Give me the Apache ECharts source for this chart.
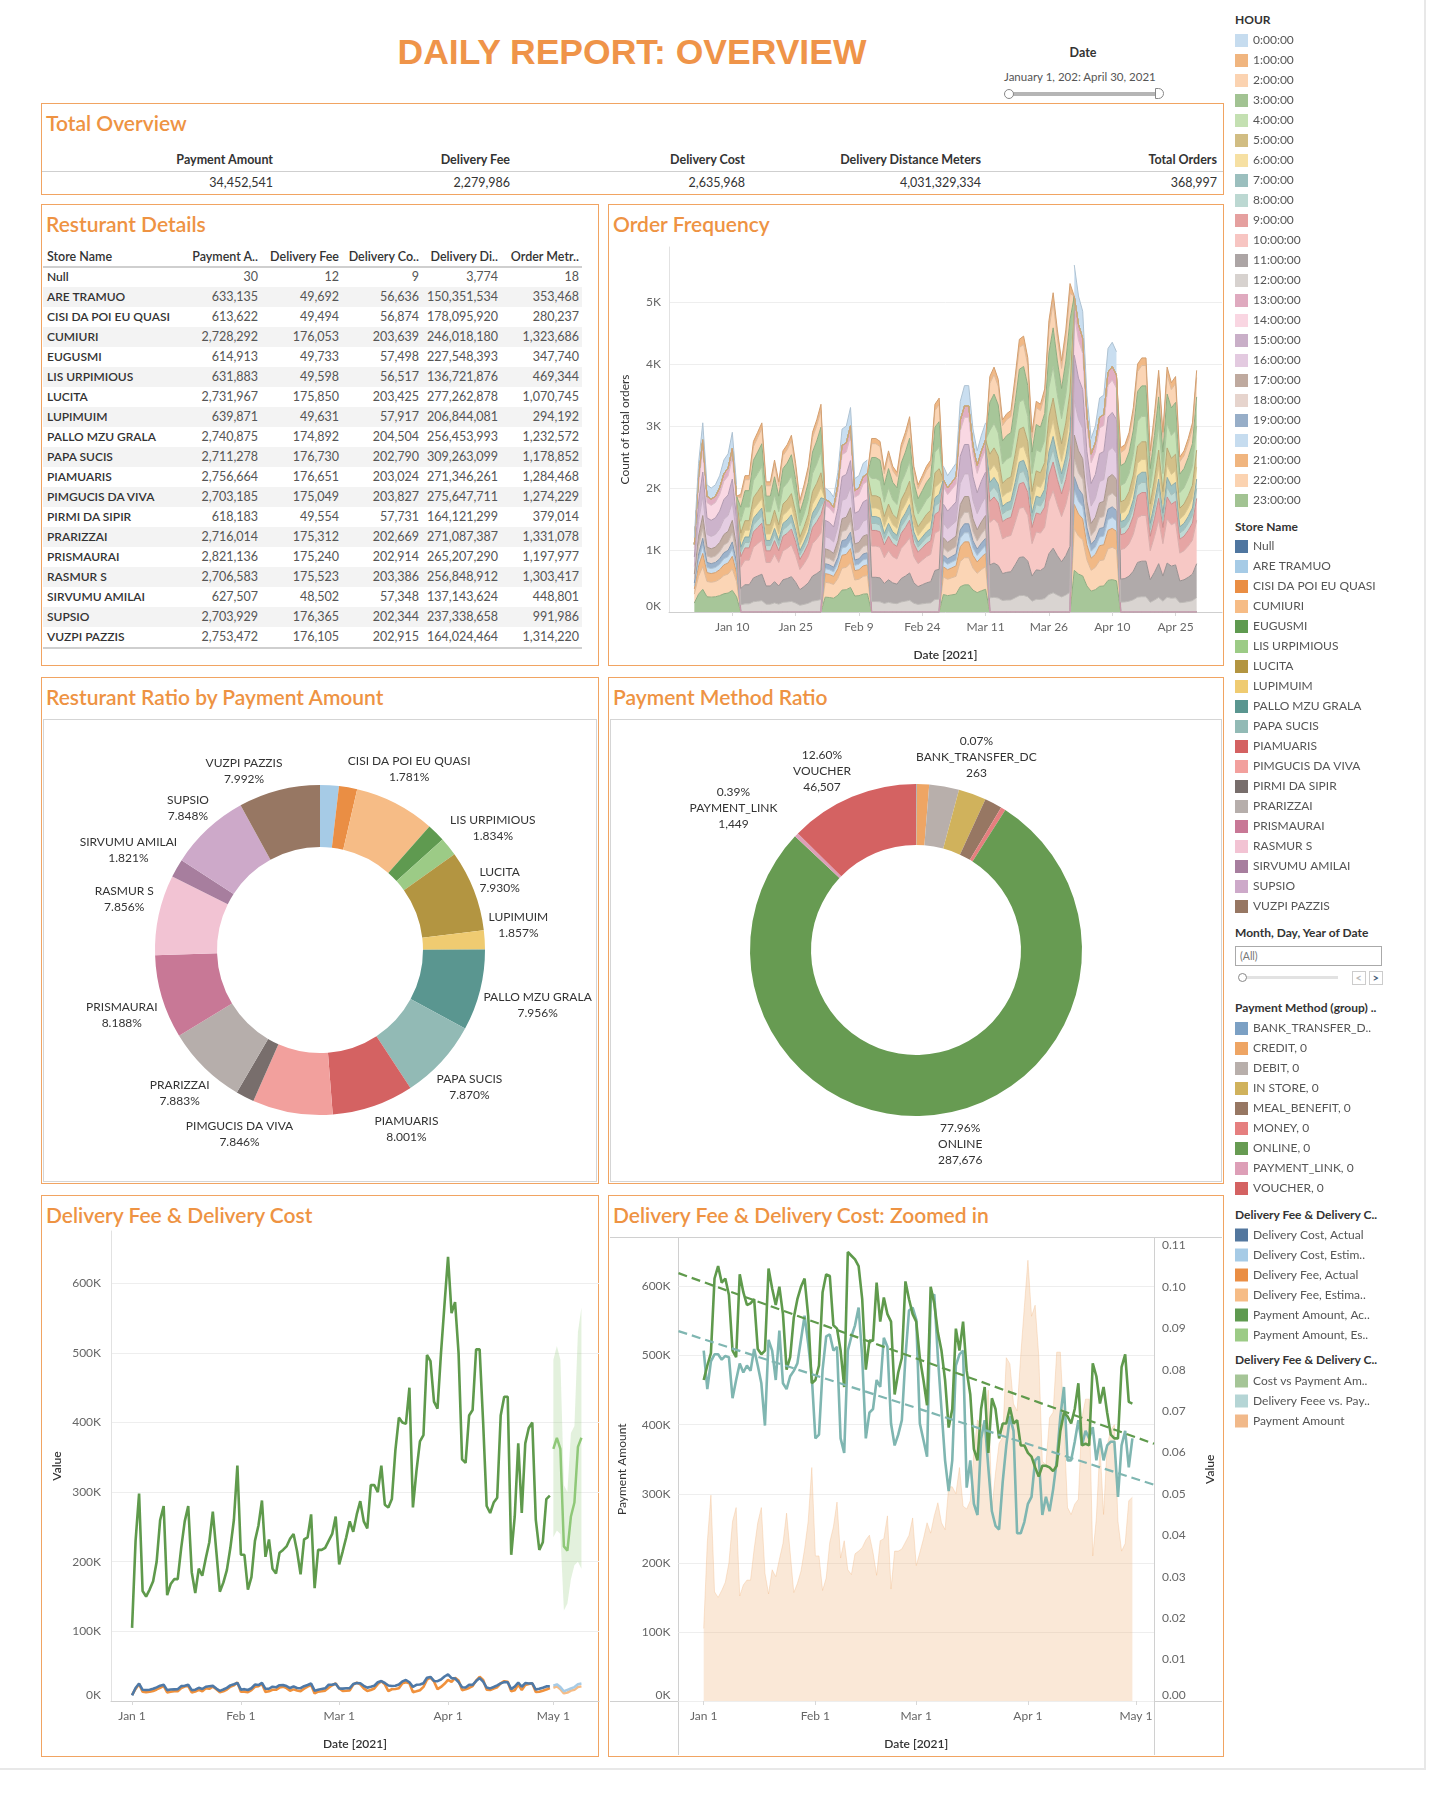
<!DOCTYPE html>
<html><head><meta charset="utf-8">
<script src="https://cdn.jsdelivr.net/npm/echarts@6/dist/echarts.min.js"></script>
<style>
html,body{margin:0;padding:0;background:#fff;}
#page{position:relative;width:1440px;height:1798px;overflow:hidden;font-family:Lato,'Noto Sans',sans-serif;}
.abs{position:absolute;white-space:nowrap;}
#chart{position:absolute;left:0;top:0;width:1440px;height:1798px;z-index:5;}
</style></head>
<body><div id="page"><div id="chart"></div></div>
<script>
// ================= DATA =================
const reportTitle = 'DAILY REPORT: OVERVIEW';
const totalHeaders = ['Payment Amount','Delivery Fee','Delivery Cost','Delivery Distance Meters','Total Orders'];
const totalValues = [34452541, 2279986, 2635968, 4031329334, 368997];

const tableHeaders = ['Store Name','Payment A..','Delivery Fee','Delivery Co..','Delivery Di..','Order Metr..'];
const storeNames = ['Null','ARE TRAMUO','CISI DA POI EU QUASI','CUMIURI','EUGUSMI','LIS URPIMIOUS','LUCITA','LUPIMUIM','PALLO MZU GRALA','PAPA SUCIS','PIAMUARIS','PIMGUCIS DA VIVA','PIRMI DA SIPIR','PRARIZZAI','PRISMAURAI','RASMUR S','SIRVUMU AMILAI','SUPSIO','VUZPI PAZZIS'];
const storePayment = [30,633135,613622,2728292,614913,631883,2731967,639871,2740875,2711278,2756664,2703185,618183,2716014,2821136,2706583,627507,2703929,2753472];
const storeDeliveryFee = [12,49692,49494,176053,49733,49598,175850,49631,174892,176730,176651,175049,49554,175312,175240,175523,48502,176365,176105];
const storeDeliveryCost = [9,56636,56874,203639,57498,56517,203425,57917,204504,202790,203024,203827,57731,202669,202914,203386,57348,202344,202915];
const storeDistance = [3774,150351534,178095920,246018180,227548393,136721876,277262878,206844081,256453993,309263099,271346261,275647711,164121299,271087387,265207290,256848912,137143624,237338658,164024464];
const storeOrderMetric = [18,353468,280237,1323686,347740,469344,1070745,294192,1232572,1178852,1284468,1274229,379014,1331078,1197977,1303417,448801,991986,1314220];
const storeColors = ['#4f76a0','#a6cbe6','#ea8e44','#f6bc86','#5f9a50','#9ccb86','#b39541','#efcb71','#5a9690','#92bab5','#d46262','#f2a09d','#786e6c','#b6aeab','#c87896','#f2c3d3','#a77e9e','#cda9c9','#977763'];
const storeLabelHidden = ['Null','ARE TRAMUO','CUMIURI','EUGUSMI','PIRMI DA SIPIR'];

const paymentNames = ['BANK_TRANSFER_DC','CREDIT','DEBIT','IN STORE','MEAL_BENEFIT','MONEY','ONLINE','PAYMENT_LINK','VOUCHER'];
const paymentCounts = [263,4430,10700,9960,6270,1742,287676,1449,46507];
const paymentLegendLabels = ['BANK_TRANSFER_D..','CREDIT, 0','DEBIT, 0','IN STORE, 0','MEAL_BENEFIT, 0','MONEY, 0','ONLINE, 0','PAYMENT_LINK, 0','VOUCHER, 0'];
const paymentColors = ['#7ba0c4','#eea564','#b8afab','#d0b25c','#977763','#e57f7f','#679b52','#dd9fb7','#d46262'];
const paymentLabelShown = ['BANK_TRANSFER_DC','ONLINE','PAYMENT_LINK','VOUCHER'];

const hourLabels = ['0:00:00','1:00:00','2:00:00','3:00:00','4:00:00','5:00:00','6:00:00','7:00:00','8:00:00','9:00:00','10:00:00','11:00:00','12:00:00','13:00:00','14:00:00','15:00:00','16:00:00','17:00:00','18:00:00','19:00:00','20:00:00','21:00:00','22:00:00','23:00:00'];
const hourColors = ['#c6dcef','#f0b57f','#fbd3b1','#a2c393','#c4e0b2','#d1bd83','#f6e0a3','#9bbfbe','#bcd8d2','#e5a09f','#f7c5c2','#aca5a5','#d7d2cf','#dfaabf','#f9d6e2','#c9afc8','#e3cae0','#bfaa9f','#e6d4cd','#97aec8','#c6dcef','#f0b57f','#fbd3b1','#a2c393'];
// share of each hour in the day's orders (read from layer thickness): days 1-11 of a month / days 12+
const hourShareEarly = [0.09,0,0,0,0,0,0,0,0,0,0,0,0,0.05,0.12,0.13,0.10,0.07,0.05,0.04,0.04,0.07,0.12,0.12];
const hourShareLate  = [null,0.03,0.08,0.12,0.10,0.07,0.05,0.04,0.04,0.09,0.18,0.14,0.06,0,0,0,0,0,0,0,0,0,0,0];
// total orders per day (thousands), Jan 1 .. Apr 30 2021
const dailyOrdersK = [
 1.2,2.4,3.05,2.05,2.0,2.05,2.2,2.45,2.55,2.9,2.05,
 1.9,2.2,2.2,2.75,2.9,3.05,2.1,2.1,2.45,2.1,2.6,2.7,2.85,2.4,1.8,2.05,2.35,2.9,3.1,3.35,
 2.0,1.95,1.85,2.25,2.95,3.0,3.3,2.15,2.2,2.4,2.45,
 2.8,2.8,2.75,2.3,2.6,2.35,2.25,2.7,2.9,3.15,2.35,2.05,2.2,2.35,2.45,3.35,3.45,
 2.35,2.2,2.3,2.4,3.4,3.65,3.65,2.95,2.6,2.85,3.05,
 3.8,3.95,3.75,3.1,3.2,3.25,3.8,4.4,4.45,4.1,2.9,3.4,3.35,3.6,4.7,5.15,4.55,4.05,4.55,5.3,
 5.6,5.1,4.85,3.5,2.8,3.0,3.45,3.5,4.25,4.35,4.2,
 2.65,2.7,2.9,3.3,4.0,4.1,4.1,2.6,3.2,3.9,2.9,3.95,3.7,3.8,2.5,2.6,2.8,3.05,3.9];
const freqTickLabels = ['Jan 10','Jan 25','Feb 9','Feb 24','Mar 11','Mar 26','Apr 10','Apr 25'];
const freqYLabels = ['0K','1K','2K','3K','4K','5K'];

// payment amount per day (thousands), Jan 1 .. Apr 30
const dailyPaymentK = [
 105,230,298,158,150,160,172,200,260,280,152,168,175,175,220,258,280,185,155,190,180,205,228,272,215,157,170,188,220,260,338,
 210,210,160,178,230,252,288,207,232,190,183,213,217,222,233,240,215,182,232,235,268,162,217,217,220,230,240,265,
 196,215,235,258,243,268,287,258,248,310,310,300,338,282,278,290,360,407,400,398,450,278,330,373,382,497,488,430,420,500,570,
 638,557,573,500,347,342,410,418,505,505,400,280,270,285,292,410,437,437,210,265,370,270,370,392,400,260,217,228,290,295];
// delivery cost / payment amount per day
const costRatio = [
 0.0775,0.081,0.084,0.102,0.105,0.101,0.102,0.098,0.0846,0.083,0.103,0.0987,0.0956,0.096,0.097,0.085,0.0837,0.0846,0.1044,0.0996,0.0956,0.100,0.0934,0.080,0.083,0.0925,0.097,0.100,0.102,0.093,0.0767,
 0.0775,0.081,0.0987,0.103,0.1026,0.0907,0.0899,0.0846,0.0758,0.1084,0.1075,0.1066,0.105,0.097,0.080,0.087,0.087,0.101,0.0916,0.0974,0.0934,0.0916,0.074,0.0793,0.0828,0.1013,0.097,0.0934,
 0.0916,0.0828,0.0775,0.0714,0.100,0.096,0.089,0.0846,0.0775,0.066,0.0705,0.0899,0.0846,0.0916,0.0797,0.074,0.0608,0.0581,0.0705,0.0758,0.0599,0.0731,0.0705,0.0634,0.067,0.067,0.0709,0.067,0.0678,0.0617,0.0617,
 0.0599,0.059,0.0564,0.0542,0.0568,0.0568,0.0564,0.0555,0.0568,0.0652,0.0696,0.0687,0.067,0.0705,0.0767,0.0617,0.0621,0.0617,0.0815,0.0784,0.0718,0.0758,0.0696,0.0643,0.0634,0.0634,0.0806,0.0837,0.0722,0.0718];
// delivery fee / payment amount per day
const feeRatio = [
 0.0846,0.0753,0.082,0.0837,0.0837,0.0824,0.0833,0.083,0.0731,0.0775,0.0815,0.0793,0.081,0.0797,0.085,0.081,0.0767,0.0665,0.0872,0.0846,0.0775,0.0894,0.0767,0.0753,0.0784,0.0797,0.0815,0.0872,0.093,0.0863,0.0784,
 0.0634,0.0643,0.080,0.088,0.0885,0.0846,0.0855,0.0634,0.0599,0.0846,0.088,0.0907,0.095,0.083,0.0634,0.0696,0.0705,0.0775,0.0758,0.0877,0.0855,0.067,0.0617,0.0643,0.0678,0.083,0.0943,0.095,
 0.0921,0.067,0.063,0.059,0.0969,0.0982,0.083,0.0705,0.0581,0.0507,0.0581,0.081,0.0837,0.0846,0.0515,0.0581,0.0476,0.0449,0.0634,0.0678,0.0564,0.0458,0.0423,0.0414,0.0529,0.0617,0.0687,0.0652,0.0405,0.0405,0.0432,
 0.0476,0.0493,0.0581,0.059,0.0449,0.0493,0.0458,0.0511,0.0581,0.0687,0.0758,0.0581,0.0581,0.0626,0.0678,0.0617,0.0652,0.0634,0.0661,0.0581,0.0634,0.0581,0.0617,0.0626,0.0626,0.0493,0.0617,0.0652,0.0564,0.0634];
// forecast May 1 .. May 9 (thousands)
const paymentEstK = [362,378,362,222,216,265,285,365,378];
const paymentEstUpperK = [490,510,490,310,300,385,395,530,565];
const paymentEstLowerK = [235,245,240,130,140,175,195,200,190];
const costEstK = [22,24,20,14,16,18,20,24,25];
const feeEstK = [19,21,17,11,12,15,16,20,21];
// trend lines: value at left and right edge of the zoomed plot
const costTrend = [0.1033, 0.0621];
const feeTrend = [0.0893, 0.0522];
const monthTickLabels = ['Jan 1','Feb 1','Mar 1','Apr 1','May 1'];
const valueKLabels = ['0K','100K','200K','300K','400K','500K','600K'];
const ratioLabels = ['0.00','0.01','0.02','0.03','0.04','0.05','0.06','0.07','0.08','0.09','0.10','0.11'];
const deliveryLegendNames = ['Delivery Cost, Actual','Delivery Cost, Estimate','Delivery Fee, Actual','Delivery Fee, Estimate','Payment Amount, Actual','Payment Amount, Estimate'];
const deliveryLegendLabels = ['Delivery Cost, Actual','Delivery Cost, Estim..','Delivery Fee, Actual','Delivery Fee, Estima..','Payment Amount, Ac..','Payment Amount, Es..'];
const zoomLegendNames = ['Cost vs Payment Amount','Delivery Feee vs. Payment Amount','Payment Amount'];
const zoomLegendLabels = ['Cost vs Payment Am..','Delivery Feee vs. Pay..','Payment Amount'];
const zoomLegendColors = ['#a5c597','#b5d5d5','#f1b98a'];

// label placement tweaks (style, px) to mimic the reference's label collision handling
const storeLabelNudge = {'VUZPI PAZZIS':[-28,8], 'CISI DA POI EU QUASI':[56,11], 'LIS URPIMIOUS':[8,10], 'LUPIMUIM':[0,-13],
  'PIAMUARIS':[24,-4], 'PIMGUCIS DA VIVA':[-48,-6], 'SIRVUMU AMILAI':[-2,8], 'RASMUR S':[0,-8], 'PRISMAURAI':[0,6]};
const paymentLabelNudge = {'VOUCHER':[-16,8], 'BANK_TRANSFER_DC':[60,0], 'PAYMENT_LINK':[-26,9], 'ONLINE':[20,0]};

// ================= HTML LAYER =================
const page = document.getElementById('page');
const FONT = "Lato,'Noto Sans',sans-serif";
function fmt(n){ return n.toLocaleString('en-US'); }
function put(x, y, text, o){
  o = o || {};
  const d = document.createElement('div');
  d.className = 'abs';
  d.textContent = text;
  const fs = o.size || 12;
  d.style.fontSize = fs + 'px';
  d.style.lineHeight = Math.round(fs*1.3) + 'px';
  d.style.color = o.color || '#555';
  d.style.fontFamily = o.family || FONT;
  if (o.weight) d.style.fontWeight = o.weight;
  d.style.top = (y - Math.round(fs*1.3)/2) + 'px';
  const a = o.align || 'left';
  if (a === 'left') d.style.left = x + 'px';
  else if (a === 'right') d.style.right = (1440 - x) + 'px';
  else { d.style.left = x + 'px'; d.style.transform = 'translateX(-50%)'; }
  page.appendChild(d);
  return d;
}
function box(x, y, w, h, css){
  const d = document.createElement('div');
  d.style.position = 'absolute';
  d.style.left = x + 'px'; d.style.top = y + 'px';
  d.style.width = w + 'px'; d.style.height = h + 'px';
  d.style.boxSizing = 'border-box';
  Object.assign(d.style, css || {});
  page.appendChild(d);
  return d;
}
const ORANGE = '#ee9343';
const PANEL = {border:'1.5px solid #f1a462'};
function panel(x, y, w, h, title){
  box(x, y, w, h, PANEL);
  put(x + 5, y + 19.5, title, {size:21, weight:600, color:ORANGE});
}
// page frame
box(1424, 0, 2, 1769, {background:'#e8e8e8'});
box(0, 1768, 1426, 2, {background:'#e8e8e8'});
// title & date filter
put(632, 52, reportTitle, {size:35.5, weight:'bold', color:'#ef9449', align:'center', family:"'Liberation Sans',Arial,sans-serif"});
put(1083, 53, 'Date', {size:12.5, weight:'bold', color:'#333', align:'center'});
put(1004, 76, 'January 1, 202: April 30, 2021', {size:11.5, color:'#555'});
box(1010, 92, 148, 4, {background:'#b5b5b5', borderRadius:'2px'});
box(1004, 89, 10, 10, {background:'#fff', border:'1.2px solid #888', borderRadius:'50%'});
box(1155, 88, 9, 11, {background:'#fff', border:'1.2px solid #888', borderRadius:'0 6px 6px 0'});

// Total overview
panel(41, 103, 1183, 92, 'Total Overview');
const totalRight = [273, 510, 745, 981, 1217];
box(42, 171, 1181, 1, {background:'#cfcfcf'});
totalHeaders.forEach((h,i)=>{
  put(totalRight[i], 160, h, {size:12.5, weight:'bold', color:'#333', align:'right'});
  put(totalRight[i], 183, fmt(totalValues[i]), {size:12.5, color:'#333', align:'right'});
});

// Resturant details table
panel(41, 204, 558, 462, 'Resturant Details');
const colRight = [0, 258, 339, 419, 498, 579];
const rowY0 = 277, rowStep = 20;
storeNames.forEach((n,i)=>{ if (i % 2 === 1) box(43, rowY0 + i*rowStep - 10, 539, 20, {background:'#f3f3f3'}); });
box(43, 266, 539, 1.5, {background:'#cfcfcf'});
box(43, 647, 539, 1.5, {background:'#cfcfcf'});
put(47, 257, tableHeaders[0], {size:12.5, color:'#333', weight:600});
for (let c=1;c<tableHeaders.length;c++) put(colRight[c], 257, tableHeaders[c], {size:12.5, color:'#333', weight:600, align:'right'});
const tableCols = [storePayment, storeDeliveryFee, storeDeliveryCost, storeDistance, storeOrderMetric];
storeNames.forEach((n,i)=>{
  const y = rowY0 + i*rowStep;
  put(47, y, n, {size:12, color:'#333', weight:600});
  tableCols.forEach((col,c)=> put(colRight[c+1], y, fmt(col[i]), {size:12.5, color:'#555', align:'right'}));
});

// other panels
panel(608, 204, 616, 462, 'Order Frequency');
panel(41, 677, 558, 507, 'Resturant Ratio by Payment Amount');
panel(608, 677, 616, 507, 'Payment Method Ratio');
box(43, 719, 554, 463, {border:'1px solid #d5d5d5'});
box(610, 719, 612, 463, {border:'1px solid #d5d5d5'});
panel(41, 1195, 558, 562, 'Delivery Fee & Delivery Cost');
panel(608, 1195, 616, 562, 'Delivery Fee & Delivery Cost: Zoomed in');
box(610, 1237, 612, 1, {background:'#d0d0d0'});
box(678, 1237, 1, 518, {background:'#d0d0d0'});
box(1154, 1237, 1, 518, {background:'#d0d0d0'});
box(610, 1701, 612, 1, {background:'#d0d0d0'});

// legend headings & filter widget
const LH = {size:12, weight:'bold', color:'#333'};
put(1235, 20, 'HOUR', LH);
put(1235, 527, 'Store Name', LH);
put(1235, 933, 'Month, Day, Year of Date', LH);
box(1235, 946, 147, 20, {border:'1px solid #aaa', background:'#fff'});
put(1240, 956, '(All)', {size:10.5, color:'#777'});
box(1246, 976, 92, 3, {background:'#e2e2e2'});
box(1238, 973, 9, 9, {background:'#fff', border:'1px solid #888', borderRadius:'50%'});
box(1352, 971, 14, 14, {border:'1px solid #ccc', background:'#fff'});
box(1369, 971, 14, 14, {border:'1px solid #ccc', background:'#fff'});
put(1355.5, 978, '<', {size:11, color:'#bbb', weight:'bold'});
put(1372.5, 978, '>', {size:11, color:'#4a5f7a', weight:'bold'});
put(1235, 1008, 'Payment Method (group) ..', LH);
put(1235, 1215, 'Delivery Fee & Delivery C..', LH);
put(1235, 1360, 'Delivery Fee & Delivery C..', LH);

// ================= CHART =================
function darken(hex, a){
  const n = parseInt(hex.slice(1),16);
  const r = Math.round(((n>>16)&255)*(1-a)), g = Math.round(((n>>8)&255)*(1-a)), b = Math.round((n&255)*(1-a));
  return 'rgb('+r+','+g+','+b+')';
}
function dayTime(i){ return new Date(2021,0,1+i).getTime(); }
const MONTHS = ['Jan','Feb','Mar','Apr','May','Jun','Jul','Aug','Sep','Oct','Nov','Dec'];

// order frequency: category axis Dec 26 .. May 5
const FREQ_PAD = 6, FREQ_N = 132;
const freqCats = [];
for (let k=0;k<FREQ_N;k++){ const d = new Date(2020,11,26+k); freqCats.push(MONTHS[d.getMonth()]+' '+d.getDate()); }
function isEarly(i){ return new Date(2021,0,1+i).getDate() <= 11; }
const hourSeries = [];
for (let h=23; h>=0; h--){
  const data = freqCats.map((c,k)=>{
    const i = k - FREQ_PAD;
    if (i < 0 || i >= dailyOrdersK.length) return null;
    const s = (isEarly(i) ? hourShareEarly : hourShareLate)[h];
    return s === null ? null : Math.round(dailyOrdersK[i]*1000*s);
  });
  hourSeries.push({
    name: hourLabels[h], type:'line', xAxisIndex:0, yAxisIndex:0, stack:'hours', data,
    symbol:'none', showSymbol:false, silent:true, emphasis:{disabled:true},
    itemStyle:{color:hourColors[h]},
    lineStyle:{width:1, color:darken(hourColors[h],0.12)},
    areaStyle:{color:hourColors[h], opacity:0.95}
  });
}
const freqTickShow = (idx)=> idx>0 && idx%15===0 && idx/15 <= freqTickLabels.length;

const axisLbl = {color:'#666', fontSize:12, fontFamily:FONT};
const axisName = {color:'#333', fontSize:12, fontFamily:FONT, fontWeight:600};
const monthFmt = (v)=>{ const d = new Date(v); return (d.getDate()===1 && d.getHours()===0) ? (monthTickLabels[d.getMonth()] || '') : ''; };
const kFmt = (v)=> (v % 100000 === 0 && v/100000 < valueKLabels.length) ? valueKLabels[v/100000] : '';
const ratioFmt = (v)=>{ const k = Math.round(v*100); return (Math.abs(v*100-k) < 1e-6 && k < ratioLabels.length) ? ratioLabels[k] : ''; };

const payTotal = storePayment.reduce((a,b)=>a+b,0);
const pmTotal = paymentCounts.reduce((a,b)=>a+b,0);
function makeLabelLayout(names, nudges){
  return function(params){
    const pts = params.labelLinePoints;
    if (!pts || pts.length < 2) return {};
    const p0 = pts[0], p1 = pts[1];
    let dx = p1[0]-p0[0], dy = p1[1]-p0[1];
    const len = Math.hypot(dx,dy) || 1; dx/=len; dy/=len;
    const w = params.labelRect.width, h = params.labelRect.height;
    const push = 3 + Math.abs(dx)*w/2 + Math.abs(dy)*h/2;
    const nd = nudges[names[params.dataIndex]] || [0,0];
    return {x: p0[0]+dx*push+nd[0], y: p0[1]+dy*push+nd[1], align:'center', verticalAlign:'middle'};
  };
}

const xMinL = new Date(2020,11,26).getTime(), xMaxL = new Date(2021,4,14).getTime();
const xMinR = new Date(2020,11,25).getTime(), xMaxR = new Date(2021,4,6).getTime();
const payActual = dailyPaymentK.map((v,i)=>[dayTime(i), v*1000]);
const costActual = dailyPaymentK.map((v,i)=>[dayTime(i), Math.round(v*1000*costRatio[i])]);
const feeActual = dailyPaymentK.map((v,i)=>[dayTime(i), Math.round(v*1000*feeRatio[i])]);
const estTime = (j)=> new Date(2021,4,1+j).getTime();
const lineBase = {type:'line', symbol:'none', showSymbol:false, silent:true, emphasis:{disabled:true}};

const legendBase = {orient:'vertical', left:1235, itemWidth:13, itemHeight:13, itemGap:7, icon:'rect', selectedMode:false, padding:0,
  textStyle:{fontSize:12, color:'#555', fontFamily:FONT, lineHeight:13}};

const option = {
  animation:false,
  textStyle:{fontFamily:FONT},
  grid:[
    {left:669, top:247, width:553, height:365, outerBoundsMode:'none'},
    {left:111, top:1231, width:488, height:470, outerBoundsMode:'none'},
    {left:678.5, top:1237.5, width:475.5, height:463.5, outerBoundsMode:'none'}
  ],
  xAxis:[
    {gridIndex:0, type:'category', data:freqCats, boundaryGap:false,
     axisLine:{lineStyle:{color:'#cfcfcf'}}, axisTick:{show:true, length:4, interval:(i)=>freqTickShow(i), lineStyle:{color:'#d8d8d8'}},
     axisLabel:Object.assign({interval:(i)=>freqTickShow(i), formatter:(v,i)=> freqTickShow(i) ? freqTickLabels[i/15-1] : '', margin:9}, axisLbl),
     splitLine:{show:false}, name:'Date [2021]', nameLocation:'middle', nameGap:37, nameTextStyle:axisName},
    {gridIndex:1, type:'time', min:xMinL, max:xMaxL, minInterval:28*86400000,
     axisLine:{lineStyle:{color:'#cfcfcf'}}, axisTick:{show:true, length:4, lineStyle:{color:'#d8d8d8'}},
     axisLabel:Object.assign({formatter:monthFmt, margin:9, hideOverlap:false}, axisLbl), splitLine:{show:false},
     name:'Date [2021]', nameLocation:'middle', nameGap:37, nameTextStyle:axisName},
    {gridIndex:2, type:'time', min:xMinR, max:xMaxR, minInterval:28*86400000,
     axisLine:{show:false}, axisTick:{show:true, length:4, lineStyle:{color:'#d8d8d8'}},
     axisLabel:Object.assign({formatter:monthFmt, margin:9, hideOverlap:false}, axisLbl), splitLine:{show:false},
     name:'Date [2021]', nameLocation:'middle', nameGap:37, nameTextStyle:axisName}
  ],
  yAxis:[
    {gridIndex:0, type:'value', min:0, max:5890, interval:1000,
     axisLine:{show:true, lineStyle:{color:'#e2e2e2'}}, axisTick:{show:false},
     axisLabel:Object.assign({formatter:(v)=> (v%1000===0 && v/1000 < freqYLabels.length) ? freqYLabels[v/1000] : '', margin:8, verticalAlignMinLabel:'bottom'}, axisLbl),
     splitLine:{lineStyle:{color:'#eeeeee'}, showMaxLine:false},
     name:'Count of total orders', nameLocation:'middle', nameRotate:90, nameGap:38, nameTextStyle:Object.assign({}, axisName, {fontWeight:'normal'})},
    {gridIndex:1, type:'value', min:0, max:675000, interval:100000,
     axisLine:{show:true, lineStyle:{color:'#e2e2e2'}}, axisTick:{show:false},
     axisLabel:Object.assign({formatter:kFmt, margin:10, verticalAlignMinLabel:'bottom'}, axisLbl),
     splitLine:{lineStyle:{color:'#eeeeee'}, showMaxLine:false},
     name:'Value', nameLocation:'middle', nameRotate:90, nameGap:48, nameTextStyle:axisName},
    {gridIndex:2, type:'value', min:0, max:671000, interval:100000, position:'left',
     axisLine:{show:false}, axisTick:{show:false},
     axisLabel:Object.assign({formatter:kFmt, margin:8, verticalAlignMinLabel:'bottom'}, axisLbl),
     splitLine:{lineStyle:{color:'#eeeeee'}, showMaxLine:false},
     name:'Payment Amount', nameLocation:'middle', nameRotate:90, nameGap:50, nameTextStyle:Object.assign({}, axisName, {fontWeight:'normal'})},
    {gridIndex:2, type:'value', min:0, max:0.1119, interval:0.01, position:'right',
     axisLine:{show:false}, axisTick:{show:false},
     axisLabel:Object.assign({formatter:ratioFmt, margin:8, verticalAlignMinLabel:'bottom'}, axisLbl),
     splitLine:{show:false},
     name:'Value', nameLocation:'middle', nameRotate:90, nameGap:50, nameTextStyle:axisName}
  ],
  legend:[
    Object.assign({top:34, data:hourLabels.slice()}, legendBase),
    Object.assign({top:540, data:storeNames.slice()}, legendBase),
    Object.assign({top:1022, data:paymentNames.slice(), formatter:(n)=> paymentLegendLabels[paymentNames.indexOf(n)] || n}, legendBase),
    Object.assign({top:1228.5, data:deliveryLegendNames.slice(), formatter:(n)=> deliveryLegendLabels[deliveryLegendNames.indexOf(n)] || n}, legendBase),
    Object.assign({top:1374.5, data:zoomLegendNames.map((n,i)=>({name:n, itemStyle:{color:zoomLegendColors[i]}})), formatter:(n)=> zoomLegendLabels[zoomLegendNames.indexOf(n)] || n}, legendBase)
  ],
  series:[].concat(hourSeries, [
    // restaurant donut
    {type:'pie', center:[320,950], radius:[103,165], startAngle:90, clockwise:true, avoidLabelOverlap:false, silent:true,
     emphasis:{disabled:true},
     data:storeNames.map((n,i)=>({name:n, value:storePayment[i], itemStyle:{color:storeColors[i]}, label:{show: storeLabelHidden.indexOf(n) < 0}})),
     label:{position:'outside', formatter:(p)=> p.name + '\n' + (p.value/payTotal*100).toFixed(3) + '%', fontSize:12, color:'#333', lineHeight:16, fontFamily:FONT},
     labelLine:{show:true, length:6, length2:0, lineStyle:{opacity:0}},
     labelLayout:makeLabelLayout(storeNames, storeLabelNudge)},
    // payment method donut
    {type:'pie', center:[916,950], radius:[105,166], startAngle:90, clockwise:true, avoidLabelOverlap:false, silent:true,
     emphasis:{disabled:true},
     data:paymentNames.map((n,i)=>({name:n, value:paymentCounts[i], itemStyle:{color:paymentColors[i]}, label:{show: paymentLabelShown.indexOf(n) >= 0}})),
     label:{position:'outside', formatter:(p)=> (p.value/pmTotal*100).toFixed(2) + '%\n' + p.name + '\n' + fmt(p.value), fontSize:12, color:'#333', lineHeight:16, fontFamily:FONT},
     labelLine:{show:true, length:6, length2:0, lineStyle:{opacity:0}},
     labelLayout:makeLabelLayout(paymentNames, paymentLabelNudge)},
    // delivery fee & cost (left)
    Object.assign({name:'pa_band_low', xAxisIndex:1, yAxisIndex:1, stack:'paband', data:paymentEstLowerK.map((v,j)=>[estTime(j), v*1000]),
      lineStyle:{opacity:0}, itemStyle:{color:'#9ccb86'}}, lineBase),
    Object.assign({name:'pa_band_high', xAxisIndex:1, yAxisIndex:1, stack:'paband', data:paymentEstUpperK.map((v,j)=>[estTime(j), (v-paymentEstLowerK[j])*1000]),
      lineStyle:{opacity:0}, itemStyle:{color:'#9ccb86'}, areaStyle:{color:'#9ccb86', opacity:0.28}}, lineBase),
    Object.assign({name:'Payment Amount, Estimate', xAxisIndex:1, yAxisIndex:1, data:paymentEstK.map((v,j)=>[estTime(j), v*1000]),
      itemStyle:{color:'#9ccb86'}, lineStyle:{width:2.5, color:'#8fc878'}}, lineBase),
    Object.assign({name:'Delivery Fee, Estimate', xAxisIndex:1, yAxisIndex:1, data:feeEstK.map((v,j)=>[estTime(j), v*1000]),
      itemStyle:{color:'#f6bc86'}, lineStyle:{width:2.5, color:'#f6bc86'}}, lineBase),
    Object.assign({name:'Delivery Cost, Estimate', xAxisIndex:1, yAxisIndex:1, data:costEstK.map((v,j)=>[estTime(j), v*1000]),
      itemStyle:{color:'#a6cbe6'}, lineStyle:{width:2.5, color:'#a6cbe6'}}, lineBase),
    Object.assign({name:'Payment Amount, Actual', xAxisIndex:1, yAxisIndex:1, data:payActual,
      itemStyle:{color:'#5f9a50'}, lineStyle:{width:2.6, color:'#5f9a4c'}}, lineBase),
    Object.assign({name:'Delivery Fee, Actual', xAxisIndex:1, yAxisIndex:1, data:feeActual,
      itemStyle:{color:'#ea8e44'}, lineStyle:{width:2.6, color:'#f0913c'}}, lineBase),
    Object.assign({name:'Delivery Cost, Actual', xAxisIndex:1, yAxisIndex:1, data:costActual,
      itemStyle:{color:'#53779e'}, lineStyle:{width:2.6, color:'#4e79a7'}}, lineBase),
    // zoomed in (right)
    Object.assign({name:'Payment Amount', xAxisIndex:2, yAxisIndex:2, data:payActual, z:1,
      itemStyle:{color:'#f0b783'}, lineStyle:{width:1, color:'#f0b783', opacity:0.35}, areaStyle:{color:'#f0b783', opacity:0.32}}, lineBase),
    Object.assign({name:'Delivery Feee vs. Payment Amount', xAxisIndex:2, yAxisIndex:3, data:feeRatio.map((v,i)=>[dayTime(i), v]),
      itemStyle:{color:'#7fb6b1'}, lineStyle:{width:2.6, color:'#7fb6b1'}}, lineBase),
    Object.assign({name:'Cost vs Payment Amount', xAxisIndex:2, yAxisIndex:3, data:costRatio.map((v,i)=>[dayTime(i), v]),
      itemStyle:{color:'#5f9a4c'}, lineStyle:{width:2.6, color:'#5f9a4c'}}, lineBase),
    Object.assign({name:'fee_trend', xAxisIndex:2, yAxisIndex:3, data:[[xMinR, feeTrend[0]],[xMaxR, feeTrend[1]]],
      itemStyle:{color:'#7fb6b1'}, lineStyle:{width:2.2, color:'#7fb6b1', type:[9,5]}}, lineBase),
    Object.assign({name:'cost_trend', xAxisIndex:2, yAxisIndex:3, data:[[xMinR, costTrend[0]],[xMaxR, costTrend[1]]],
      itemStyle:{color:'#5f9a4c'}, lineStyle:{width:2.2, color:'#5f9a4c', type:[9,5]}}, lineBase)
  ])
};
const chart = echarts.init(document.getElementById('chart'), null, {renderer:'canvas', width:1440, height:1798});
chart.setOption(option);
</script>
</body></html>
